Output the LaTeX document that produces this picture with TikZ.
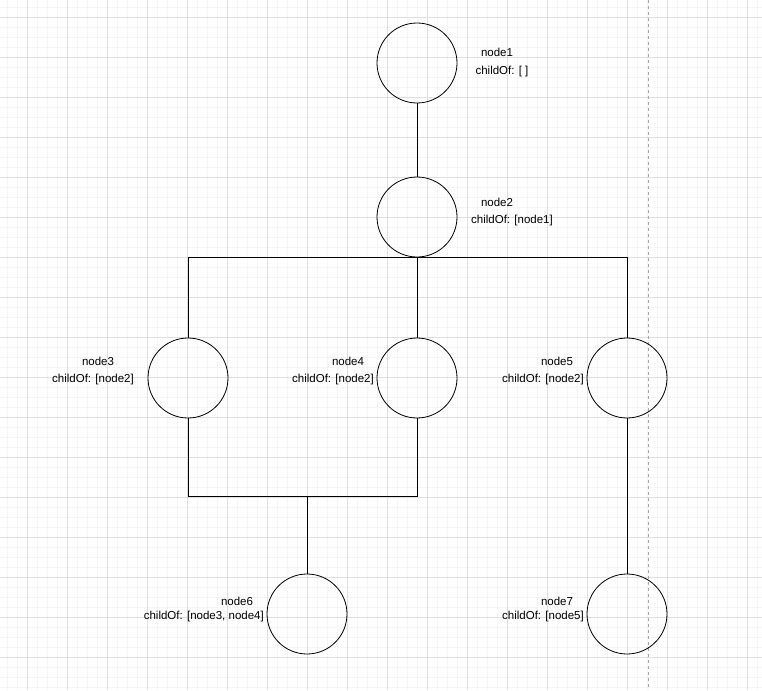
\documentclass[tikz,border=0pt]{standalone}
\usepackage{fontspec}
\setmainfont{Liberation Sans}
\begin{document}
\begin{tikzpicture}[x=1pt,y=-1pt,
  circ/.style={draw,circle,minimum size=80pt,inner sep=0pt,line width=0.8pt},
  lbl/.style={font=\fontsize{11.5}{14}\selectfont,inner sep=0pt},
  conn/.style={line width=0.8pt}]
\useasboundingbox (0,0) rectangle (762,690);
\fill[white] (0,0) rectangle (762,690);
\foreach \x in {7,17,...,757} \draw[black!4,line width=0.6pt] (\x,0) -- (\x,690);
\foreach \y in {7,17,...,687} \draw[black!4,line width=0.6pt] (0,\y) -- (762,\y);
\foreach \x in {27,67,...,747} \draw[black!12,line width=0.6pt] (\x,0) -- (\x,690);
\foreach \y in {17,57,...,677} \draw[black!12,line width=0.6pt] (0,\y) -- (762,\y);
\draw[black!35,dashed,line width=0.6pt] (648,0) -- (648,690);
\node[circ] (n1) at (417,63) {};
\node[circ] (n2) at (417,217) {};
\node[circ] (n3) at (188,378) {};
\node[circ] (n4) at (417,378) {};
\node[circ] (n5) at (627,378) {};
\node[circ] (n6) at (307,614) {};
\node[circ] (n7) at (627,614) {};
\coordinate (j1) at (417,257);
\coordinate (j2) at (307,496);
\draw[conn] (n1.south) -- (n2.north);
\draw[conn] (n2.south) -- (j1);
\draw[conn] (j1) -| (n3.north);
\draw[conn] (j1) -- (n4.north);
\draw[conn] (j1) -| (n5.north);
\draw[conn] (n3.south) |- (j2);
\draw[conn] (n4.south) |- (j2);
\draw[conn] (j2) -- (n6.north);
\draw[conn] (n5.south) -- (n7.north);
\node[lbl] (t1a) at (497,52) {node1};
\node[lbl] (t1b) at (502,72) {childOf: [ ]};
\node[lbl] (t2a) at (497,202) {node2};
\node[lbl] (t2b) at (512,221) {childOf: [node1]};
\node[lbl,anchor=east] (t3b) at (134,380) {childOf: [node2]};
\node[lbl] (t3a) at (98,361) {node3};
\node[lbl,anchor=east] (t4b) at (374,380) {childOf: [node2]};
\node[lbl] (t4a) at (348,361) {node4};
\node[lbl,anchor=east] (t5b) at (584,380) {childOf: [node2]};
\node[lbl] (t5a) at (557,361) {node5};
\node[lbl,anchor=east] (t6b) at (264,617) {childOf: [node3, node4]};
\node[lbl] (t6a) at (237,601) {node6};
\node[lbl,anchor=east] (t7b) at (584,617) {childOf: [node5]};
\node[lbl] (t7a) at (557,601) {node7};
\end{tikzpicture}
\end{document}
